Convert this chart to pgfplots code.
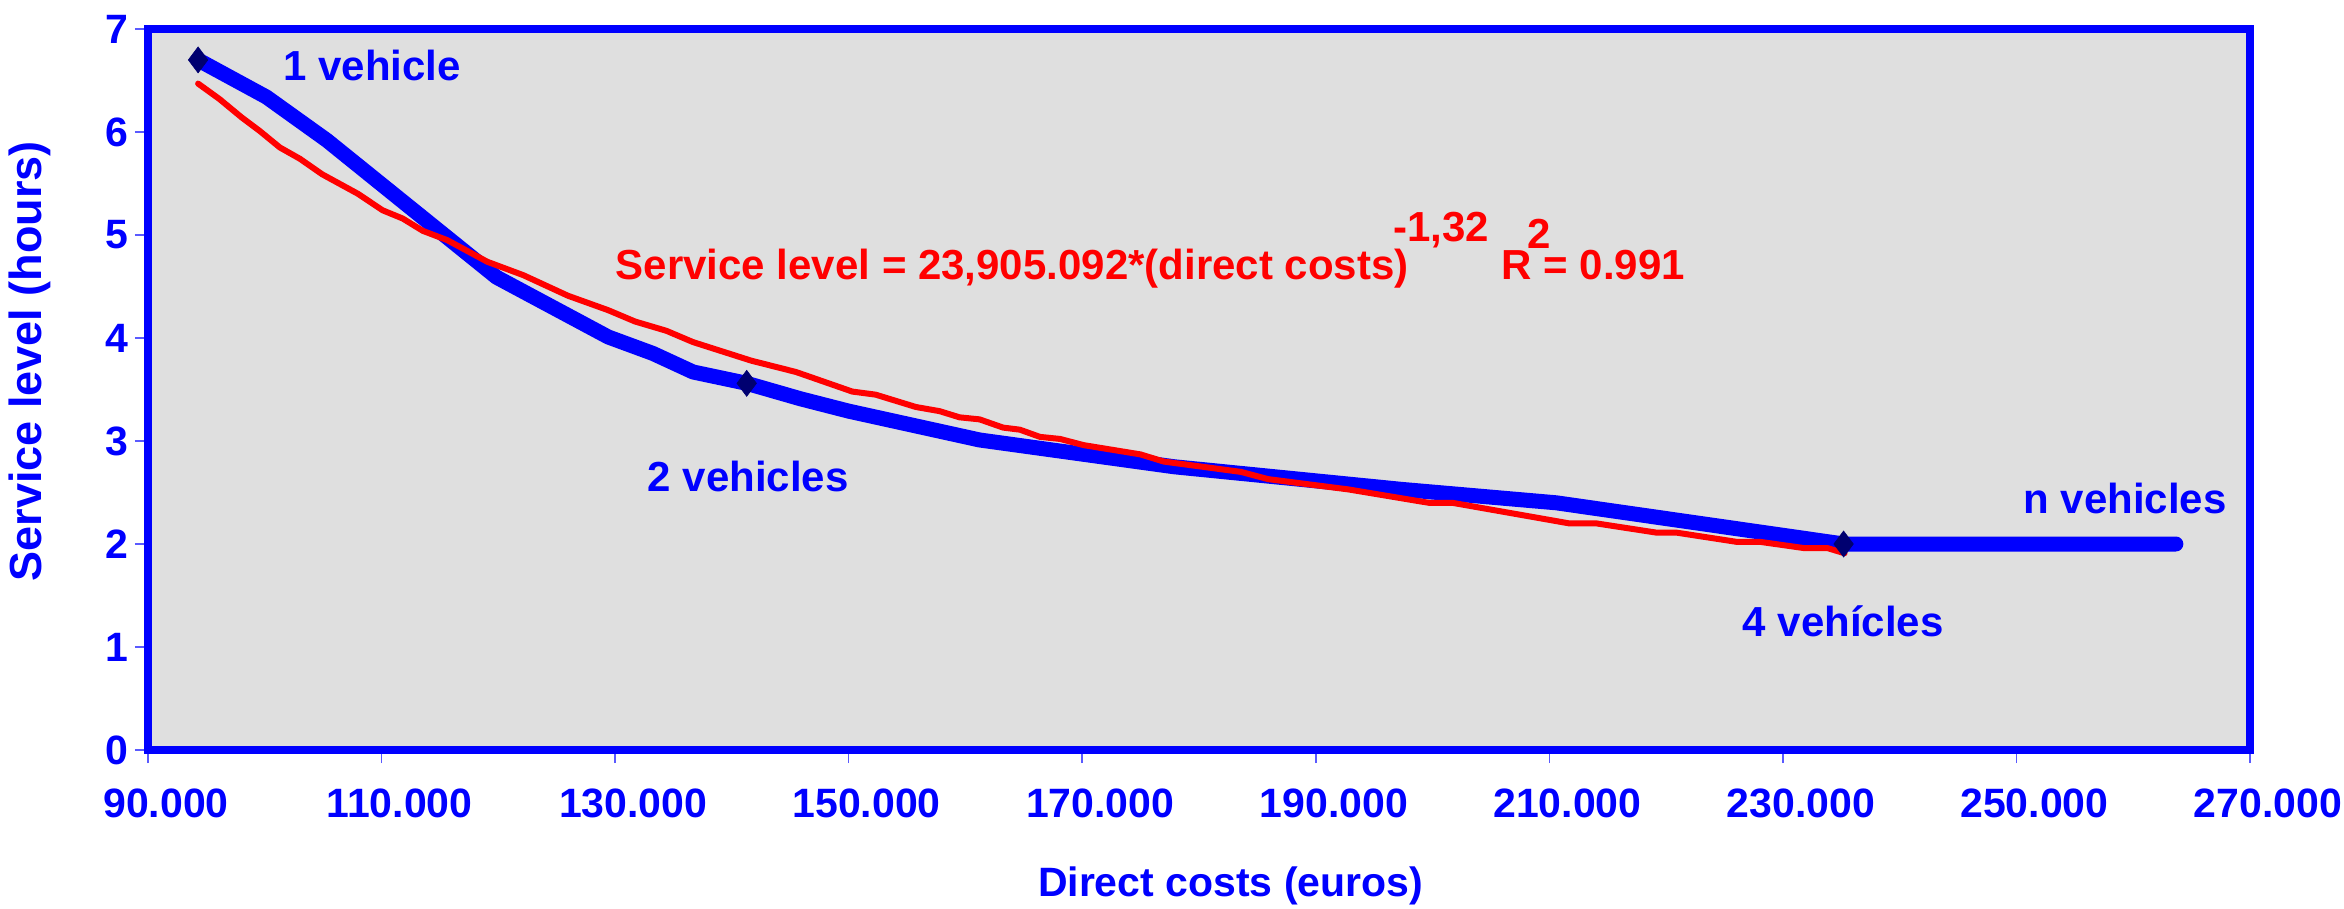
\documentclass[border=0pt]{standalone}
\usepackage{fontspec}
\setmainfont{Liberation Sans}
\usepackage{pgfplots}
\pgfplotsset{compat=1.18}
\definecolor{bgray}{RGB}{223,223,223}
\definecolor{navy}{RGB}{0,0,112}
\definecolor{tickblue}{RGB}{90,90,255}
\newcommand{\cf}{\bfseries\fontsize{20.5bp}{24bp}\selectfont}
\newcommand{\nf}{\bfseries\fontsize{21bp}{25bp}\selectfont}
\newcommand{\yf}{\bfseries\fontsize{22.5bp}{26bp}\selectfont}
\pgfplotstableread{
x y
94290 6.70
100140 6.34
105310 5.92
119850 4.59
129410 4.01
133240 3.85
136680 3.67
141270 3.56
145870 3.41
150000 3.29
161210 3.01
177860 2.75
197380 2.53
210590 2.40
235200 2.00
263650 2.00
}\bluedata
\pgfplotstableread{
x y
94290 6.47
96120 6.32
98040 6.14
99570 6.01
101290 5.85
103010 5.74
104910 5.59
107980 5.40
110090 5.24
111810 5.16
113540 5.04
115630 4.95
119060 4.74
122140 4.61
125970 4.41
129410 4.27
131710 4.16
134390 4.07
136680 3.96
141660 3.78
145490 3.67
150310 3.48
152310 3.45
155760 3.33
157780 3.29
159490 3.23
161210 3.21
163230 3.13
164660 3.11
166380 3.04
168100 3.02
170120 2.96
174990 2.87
177000 2.80
183600 2.70
185910 2.63
192790 2.53
199680 2.40
201690 2.40
211710 2.20
214030 2.20
219200 2.11
220910 2.11
226090 2.02
228100 2.02
231830 1.96
233830 1.96
235280 1.91
}\reddata
\pgfplotstableread{
x y
94290 6.70
141270 3.56
235200 2.00
}\marks
\begin{document}
\begin{tikzpicture}
\begin{axis}[
  scale only axis, width=1051bp, height=360.5bp,
  xmin=90000, xmax=270000, ymin=0, ymax=7,
  xtick={90000,110000,130000,150000,170000,190000,210000,230000,250000,270000},
  xticklabels={90.000,110.000,130.000,150.000,170.000,190.000,210.000,230.000,250.000,270.000},
  ytick={0,1,2,3,4,5,6,7},
  scaled x ticks=false,
  /pgf/number format/assume math mode=true,
  axis line style={blue, line width=4.2bp},
  axis background/.style={fill=bgray},
  tick align=outside, xtick pos=left, ytick pos=left,
  major tick length=6.5bp,
  every tick/.style={tickblue, line width=0.8bp},
  ticklabel style={font=\cf, text=blue},
  xticklabel style={yshift=-9.5bp, xshift=9bp},
  xlabel={Direct costs (euros)}, ylabel={Service level (hours)},
  xlabel style={font=\cf, text=blue, at={(axis description cs:0.515,-0.188)}, anchor=center},
  ylabel style={font=\yf, text=blue, at={(axis description cs:-0.0564,0.539)}, anchor=center},
  clip=false,
]
\addplot[blue, line width=7.5bp, line cap=round, line join=round, mark=none] table[x=x,y=y] {\bluedata};
\addplot[red, line width=3bp, line cap=round, line join=round, mark=none] table[x=x,y=y] {\reddata};
\addplot[only marks, mark=diamond*, mark size=6.5bp, mark options={fill=navy, draw=navy, line width=0.3bp}] table[x=x,y=y] {\marks};
\node[font=\nf, text=blue] at (axis cs:109200,6.65) {1 vehicle};
\node[font=\nf, text=blue] at (axis cs:141400,2.66) {2 vehicles};
\node[font=\nf, text=blue] at (axis cs:235160,1.25) {4 vehícles};
\node[font=\nf, text=blue] at (axis cs:259290,2.44) {n vehicles};
\node[font=\nf, text=red, anchor=base west, inner sep=0pt] at (axis cs:130030,4.57) {Service level = 23,905.092*(direct costs)};
\node[font=\nf, text=red, anchor=base west, inner sep=0pt] at (axis cs:196630,4.94) {-1,32};
\node[font=\nf, text=red, anchor=base west, inner sep=0pt] at (axis cs:205890,4.57) {R = 0.991};
\node[font=\nf, text=red, anchor=base west, inner sep=0pt] at (axis cs:208110,4.87) {2};
\end{axis}
\pgfresetboundingbox
\path[use as bounding box] (-74bp,-79.5bp) rectangle (1098bp,375bp);
\end{tikzpicture}
\end{document}
